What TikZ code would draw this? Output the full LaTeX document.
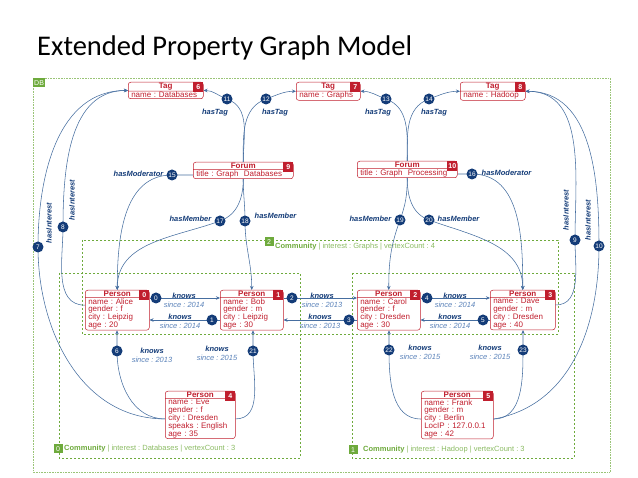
\documentclass[tikz,border=0pt]{standalone}
\usepackage{fontspec}
\setmainfont{Liberation Sans}
\newfontfamily\titlef{Carlito}
\usetikzlibrary{shapes.multipart,arrows.meta}
\frenchspacing
\definecolor{rd}{RGB}{192,30,45}
\definecolor{gr}{RGB}{110,170,60}
\definecolor{bd}{RGB}{20,60,120}
\definecolor{bl}{RGB}{70,110,160}
\definecolor{lb}{RGB}{90,130,185}
\tikzset{
 ent/.style={draw=rd, rounded corners=2.5pt, rectangle split, rectangle split parts=2,
   align=left, text=rd, inner xsep=3pt, inner ysep=0.6pt,
   font=\fontsize{8}{7.8}\selectfont\frenchspacing, anchor=north west, line width=0.5pt},
 idx/.style={fill=rd, text=white, font=\fontsize{7}{7}\selectfont\bfseries, inner sep=1pt, minimum size=10pt, anchor=north east},
 num/.style={circle, fill=bd, text=white, font=\fontsize{6.5}{6}\selectfont, inner sep=0pt, minimum size=11pt},
 e/.style={draw=bl, line width=0.55pt, -{Stealth[length=4pt,width=3.5pt]}},
 lab/.style={text=bd, font=\fontsize{7.5}{7}\selectfont\bfseries\itshape, inner sep=0.5pt},
 sin/.style={text=lb, font=\fontsize{7.5}{7}\selectfont\itshape\frenchspacing, inner sep=0.5pt},
 gl/.style={fill=gr, text=white, font=\fontsize{7}{7}\selectfont, inner sep=1pt, minimum size=9pt},
 ct/.style={text=gr!80, font=\fontsize{7.5}{7}\selectfont\frenchspacing, anchor=west, inner sep=1pt},
}
\newcommand\mkent[7]{\node[ent, text width=#4-6pt] (#1) at (#2,#3) {\hfil\textbf{#5}\hfil\nodepart{two}#7};
 \node[idx] (#1i) at (#1.north east) {#6};}
\begin{document}
\begin{tikzpicture}[x=1pt,y=-1pt]
\useasboundingbox (0,0) rectangle (638,478);
\node[anchor=base west, inner sep=0, font=\titlef\fontsize{28.5}{28.5}\selectfont] (title) at (37,56) {Extended Property Graph Model};
% containers
\draw[gr!70, densely dotted, line width=0.6pt] (33,78) rectangle (610,472);
\node[gl, anchor=north west] (dbl) at (33,78) {DB};
\draw[gr, dashed, line width=0.7pt, dash pattern=on 2pt off 2pt] (82,240) rectangle (558,334);
\node[gl] (c2l) at (269,242) {2};
\node[ct] (c2t) at (274,247) {\textbf{\color{gr}Community} | interest : Graphs | vertexCount : 4};
\draw[gr, dashed, line width=0.7pt, dash pattern=on 2pt off 2pt] (59,273) rectangle (300,458);
\node[gl] (c0l) at (58,449) {0};
\node[ct] (c0t) at (63,449) {\textbf{\color{gr}Community} | interest : Databases | vertexCount : 3};
\draw[gr, dashed, line width=0.7pt, dash pattern=on 2pt off 2pt] (352,273) rectangle (574,458);
\node[gl] (c1l) at (353,450) {1};
\node[ct] (c1t) at (362,450) {\textbf{\color{gr}Community} | interest : Hadoop | vertexCount : 3};
% entities
\mkent{T6}{128}{82}{75pt}{Tag}{6}{name : Databases}
\mkent{T7}{296}{82}{64pt}{Tag}{7}{name : Graphs}
\mkent{T8}{460}{82}{65pt}{Tag}{8}{name : Hadoop}
\mkent{F9}{193}{162}{100pt}{Forum}{9}{title : Graph\ \ Databases}
\mkent{F10}{357}{161}{100pt}{Forum}{10}{title : Graph\ \ Processing}
\mkent{P0}{85}{290}{64pt}{Person}{0}{name : Alice\\gender : f\\city : Leipzig\\age : 20}
\mkent{P1}{220}{290}{63pt}{Person}{1}{name : Bob\\gender : m\\city : Leipzig\\age : 30}
\mkent{P2}{357}{290}{63pt}{Person}{2}{name : Carol\\gender : f\\city : Dresden\\age : 30}
\mkent{P3}{490}{290}{65pt}{Person}{3}{name : Dave\\gender : m\\city : Dresden\\age : 40}
\mkent{P4}{165}{391}{70pt}{Person}{4}{name : Eve\\gender : f\\city : Dresden\\speaks : English\\age : 35}
\mkent{P5}{421}{391}{72pt}{Person}{5}{name : Frank\\gender : m\\city : Berlin\\LocIP : 127.0.0.1\\age : 42}
% coordinates
\foreach \n/\x/\y in {0/156/298,1/212/320,2/292/298,3/349/320,4/427/298,5/483/320,
 6/117/351,21/253/351,22/389/350,23/523/350,7/38/247,8/63/227,9/575/240,10/599/246,
 11/227/99,12/266/99,13/386/99,14/429/99,15/172/175,16/472/174,17/220/221,18/245/221,19/400/220,20/429/220}
 {\coordinate (k\n) at (\x,\y);}
% knows
\draw[e] (P0.east|-k0) -- (P1.west|-k0);
\draw[e] (P1.west|-k1) -- (P0.east|-k1);
\draw[e] (P1.east|-k2) -- (P2.west|-k2);
\draw[e] (P2.west|-k3) -- (P1.east|-k3);
\draw[e] (P2.east|-k4) -- (P3.west|-k4);
\draw[e] (P3.west|-k5) -- (P2.east|-k5);
\draw[e] ([yshift=-4pt]P4.west) to[out=180,in=-90] (k6) -- (P0.south-|k6);
\draw[e] ([yshift=-4pt]P4.east) to[out=0,in=-90] (k21) -- (P1.south-|k21);
\draw[e] ([yshift=-4pt]P5.west) to[out=180,in=-90] (k22) -- (P2.south-|k22);
\draw[e] ([yshift=-4pt]P5.east) to[out=0,in=-90] (k23) -- (P3.south-|k23);
% hasInterest
\draw[e] ([yshift=-4pt]P4.west) to[out=180,in=-90] (k7) to[out=90,in=180] (T6.east-|T6.west);
\draw[e] ([yshift=5pt]P0.west) to[out=180,in=-90] (k8) to[out=90,in=180] (T6.east-|T6.west);
\draw[e] ([yshift=5pt]P3.east) to[out=0,in=-90] (k9) to[out=90,in=0] (T8.east);
\draw[e] ([yshift=-4pt]P5.east) to[out=10,in=-90] (k10) to[out=90,in=0] (T8.east);
% hasTag
\draw[e] (F9.north) to[out=90,in=-20] (k11) to[out=160,in=0] (T6.east);
\draw[e] (F9.north) to[out=90,in=-160] (k12) to[out=20,in=180] (T7.west);
\draw[e] (F10.north) to[out=90,in=-20] (k13) to[out=160,in=0] (T7.east);
\draw[e] (F10.north) to[out=90,in=-160] (k14) to[out=20,in=180] (T8.west);
% moderator / member
\draw[e] (F9.west|-k15) -- (k15) to[out=180,in=90] (P0.north);
\draw[e] (F10.east|-k16) -- (k16) to[out=0,in=90] (P3.north);
\draw[e] (F9.south) to[out=-90,in=20] (k17) to[out=-160,in=90] (P0.north);
\draw[e] (F9.south) to[out=-90,in=90] (k18) to[out=-90,in=90] (P1.north);
\draw[e] (F10.south) to[out=-90,in=70] (k19) to[out=-110,in=90] (P2.north);
\draw[e] (F10.south) to[out=-90,in=160] (k20) to[out=-20,in=90] (P3.north);
% circles
\foreach \n in {0,1,2,3,4,5,6,7,8,9,10,11,12,13,14,15,16,17,18,19,20,21,22,23}
 {\node[num] (n\n) at (k\n) {\n};}
% labels
\foreach \x/\y/\s in {184/296/2014,180/317/2014,322/296/2013,320/317/2013,455/296/2014,450/317/2014,
 152/351/2013,217/349/2015,420/348/2015,490/348/2015}
 {\node[lab] at (\x,\y) {knows}; \node[sin] at (\x,\y+9) {since : \s};}
\node[lab] (ht1) at (215,113) {hasTag};
\node[lab] (ht2) at (275,113) {hasTag};
\node[lab] (ht3) at (378,113) {hasTag};
\node[lab] (ht4) at (434,113) {hasTag};
\node[lab, anchor=east] (hm1) at (164,174) {hasModerator};
\node[lab, anchor=west] (hm2) at (481,173) {hasModerator};
\node[lab, anchor=east] (hb1) at (212,219) {hasMember};
\node[lab, anchor=west] (hb2) at (254,216) {hasMember};
\node[lab, anchor=east] (hb3) at (392,219) {hasMember};
\node[lab, anchor=west] (hb4) at (437,219) {hasMember};
\node[lab, rotate=90] (hi1) at (49,223) {hasInterest};
\node[lab, rotate=90] (hi2) at (72,200) {hasInterest};
\node[lab, rotate=90] (hi3) at (566,210) {hasInterest};
\node[lab, rotate=90] (hi4) at (588,220) {hasInterest};
\end{tikzpicture}
\end{document}
